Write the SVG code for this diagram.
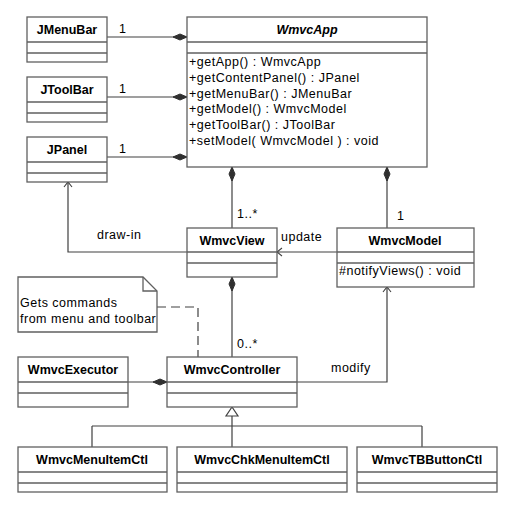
<svg xmlns="http://www.w3.org/2000/svg" width="517" height="512" viewBox="0 0 517 512">
<style>
.box{fill:#fff;stroke:#606060;stroke-width:1.3}
.sep{stroke:#606060;stroke-width:1.3}
.t{font-family:"Liberation Sans",Arial,sans-serif;font-size:12.5px;font-weight:bold;text-anchor:middle;fill:#000}
.m{font-family:"Liberation Sans",Arial,sans-serif;font-size:12.5px;letter-spacing:0.5px;fill:#000}
.l{font-family:"Liberation Sans",Arial,sans-serif;font-size:12.5px;letter-spacing:0.5px;fill:#000}
.c{fill:none;stroke:#404040;stroke-width:1.2}
.d{fill:#303030;stroke:#303030;stroke-width:1}
.o{fill:none;stroke:#404040;stroke-width:1.1}
</style>
<rect width="517" height="512" fill="#fff"/>
<g id="connectors">
  <path class="c" d="M107,37 H187"/>
  <path class="c" d="M107,97 H187"/>
  <path class="c" d="M107,157 H187"/>
  <path class="c" d="M232,167 V228"/>
  <path class="c" d="M387,167 V228"/>
  <path class="c" d="M337,252 H277"/>
  <path class="c" d="M187,252 H68 V182"/>
  <path class="c" d="M232,277 V357"/>
  <path class="c" d="M128,382 H167"/>
  <path class="c" d="M297,382 H387 V287"/>
  <path class="c" d="M232,416 V447 M92,426 H422 M92,426 V447 M422,426 V447"/>
  <path class="c" d="M157,307 H198 V357" stroke-dasharray="9,5"/>
  <polygon class="d" points="187,37 180,34 173,37 180,40"/>
  <polygon class="d" points="187,97 180,94 173,97 180,100"/>
  <polygon class="d" points="187,157 180,154 173,157 180,160"/>
  <polygon class="d" points="232,167 229,174 232,181 235,174"/>
  <polygon class="d" points="387,167 384,174 387,181 390,174"/>
  <polygon class="d" points="232,277 229,284 232,291 235,284"/>
  <polygon class="d" points="167,382 160,379 153,382 160,385"/>
  <polyline class="o" points="282,248 277,252 282,256"/>
  <polyline class="o" points="64,187 68,182 72,187"/>
  <polyline class="o" points="383,292 387,287 391,292"/>
  <polygon points="232,407 226,416 238,416" fill="#fff" stroke="#404040" stroke-width="1.2"/>
  <text class="l" x="119" y="33">1</text>
  <text class="l" x="119" y="93">1</text>
  <text class="l" x="119" y="153">1</text>
  <text class="l" x="237" y="218">1..*</text>
  <text class="l" x="397" y="220">1</text>
  <text class="l" x="281" y="241">update</text>
  <text class="l" x="97" y="239">draw-in</text>
  <text class="l" x="237" y="348">0..*</text>
  <text class="l" x="331" y="372">modify</text>
</g>
<g id="JMenuBar">
  <rect class="box" x="27" y="17" width="80" height="45"/>
  <path class="sep" d="M27,42 H107 M27,53 H107"/>
  <text class="t" x="67" y="34">JMenuBar</text>
</g>
<g id="JToolBar">
  <rect class="box" x="27" y="77" width="80" height="45"/>
  <path class="sep" d="M27,102 H107 M27,113 H107"/>
  <text class="t" x="67" y="94">JToolBar</text>
</g>
<g id="JPanel">
  <rect class="box" x="27" y="137" width="80" height="45"/>
  <path class="sep" d="M27,162 H107 M27,173 H107"/>
  <text class="t" x="67" y="154">JPanel</text>
</g>
<g id="WmvcApp">
  <rect class="box" x="187" y="17" width="240" height="150"/>
  <path class="sep" d="M187,42 H427 M187,53 H427"/>
  <text class="t" x="307" y="34" font-style="italic">WmvcApp</text>
  <text class="m" x="189" y="66">+getApp() : WmvcApp</text>
  <text class="m" x="189" y="82">+getContentPanel() : JPanel</text>
  <text class="m" x="189" y="98">+getMenuBar() : JMenuBar</text>
  <text class="m" x="189" y="113">+getModel() : WmvcModel</text>
  <text class="m" x="189" y="129">+getToolBar() : JToolBar</text>
  <text class="m" x="189" y="145">+setModel( WmvcModel ) : void</text>
</g>
<g id="WmvcView">
  <rect class="box" x="187" y="228" width="90" height="49"/>
  <path class="sep" d="M187,252 H277 M187,263 H277"/>
  <text class="t" x="232" y="245">WmvcView</text>
</g>
<g id="WmvcModel">
  <rect class="box" x="337" y="228" width="137" height="59"/>
  <path class="sep" d="M337,252 H474 M337,263 H474"/>
  <text class="t" x="405" y="245">WmvcModel</text>
  <text class="m" x="339" y="275">#notifyViews() : void</text>
</g>
<g id="note">
  <polygon points="18,277 143,277 157,291 157,332 18,332" fill="#fff" stroke="#606060" stroke-width="1.3"/>
  <polyline points="143,277 143,291 157,291" fill="none" stroke="#606060" stroke-width="1.3"/>
  <text class="l" x="20" y="307">Gets commands</text>
  <text class="l" x="20" y="323">from menu and toolbar</text>
</g>
<g id="WmvcExecutor">
  <rect class="box" x="18" y="357" width="110" height="50"/>
  <path class="sep" d="M18,382 H128 M18,393 H128"/>
  <text class="t" x="73" y="374">WmvcExecutor</text>
</g>
<g id="WmvcController">
  <rect class="box" x="167" y="357" width="130" height="50"/>
  <path class="sep" d="M167,382 H297 M167,393 H297"/>
  <text class="t" x="232" y="374">WmvcController</text>
</g>
<g id="WmvcMenuItemCtl">
  <rect class="box" x="18" y="447" width="149" height="45"/>
  <path class="sep" d="M18,472 H167 M18,483 H167"/>
  <text class="t" x="92" y="464">WmvcMenuItemCtl</text>
</g>
<g id="WmvcChkMenuItemCtl">
  <rect class="box" x="177" y="447" width="170" height="45"/>
  <path class="sep" d="M177,472 H347 M177,483 H347"/>
  <text class="t" x="262" y="464">WmvcChkMenuItemCtl</text>
</g>
<g id="WmvcTBButtonCtl">
  <rect class="box" x="357" y="447" width="140" height="45"/>
  <path class="sep" d="M357,472 H497 M357,483 H497"/>
  <text class="t" x="427" y="464">WmvcTBButtonCtl</text>
</g>
</svg>
